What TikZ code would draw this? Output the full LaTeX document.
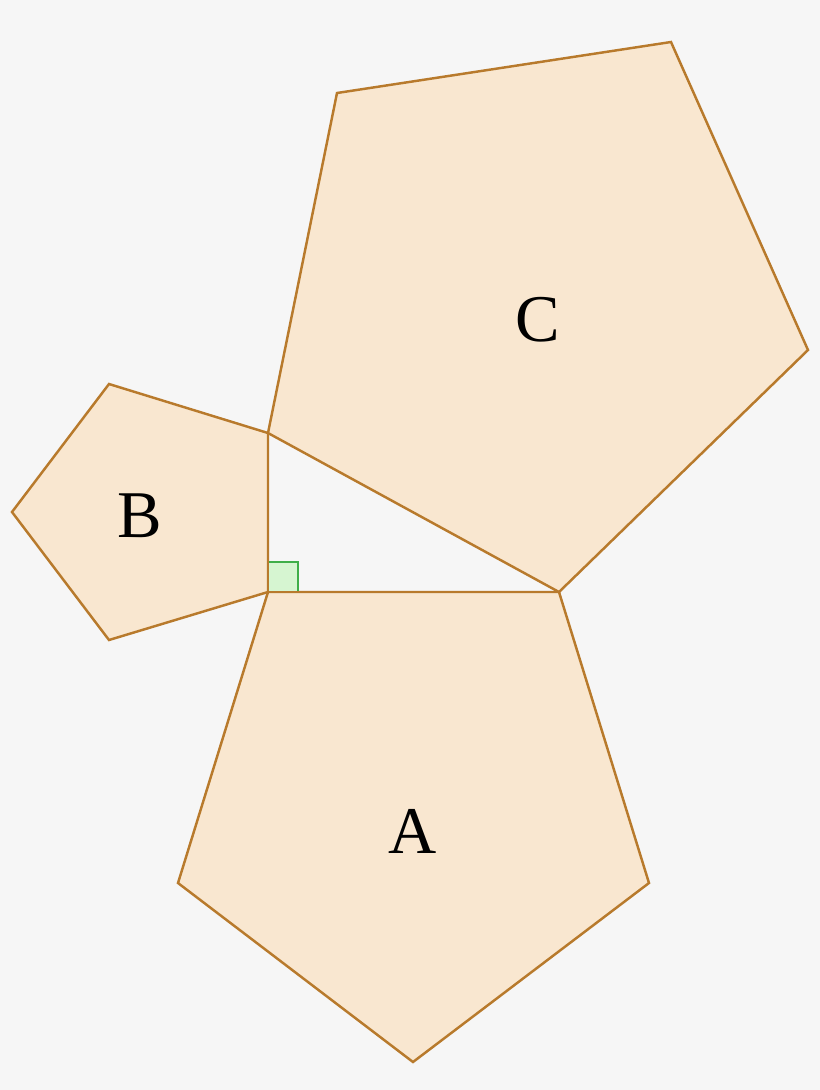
\documentclass[tikz,border=0pt]{standalone}
\usepackage{fontspec}
\setmainfont{Liberation Serif}
\usetikzlibrary{calc}
\definecolor{bgcol}{HTML}{F6F6F6}
\definecolor{pentfill}{HTML}{F9E7D0}
\definecolor{pentline}{HTML}{B87A2C}
\definecolor{rightfill}{HTML}{D6F5D1}
\definecolor{rightline}{HTML}{3FAE49}
\begin{document}
\begin{tikzpicture}[x=0.02cm, y=-0.02cm,
		pentface/.style = {fill=pentfill, draw=pentline, line width=1.4pt, line join=miter},
		letter/.style = {font=\fontsize{38}{40}\selectfont, text=black}]
		\fill[bgcol] (0,0) rectangle (820,1090);
		\useasboundingbox (0,0) rectangle (820,1090);
		
		% right triangle
		\coordinate (P) at (268, 592);
		\coordinate (Q) at (268, 433);
		\coordinate (R) at (559, 592);
		
		% pentagon on the long leg
		\draw[pentface] (P) -- (R) -- (649, 883) -- (413, 1062) -- (178, 883) -- cycle;
		% pentagon on the short leg
		\draw[pentface] (Q) -- (P) -- (109, 640) -- (12, 512) -- (109, 384) -- cycle;
		% pentagon on the hypotenuse
		\draw[pentface] (Q) -- (R) -- (808, 350) -- (671, 42) -- (337, 93) -- cycle;
		
		% right angle mark
		\draw[fill=rightfill, draw=rightline, line width=1.4pt] (P) rectangle ($(P) + (30, -30)$);
		\draw[draw=pentline, line width=1.4pt] (Q) -- (P) -- (R);
		
		\node[letter] (labA) at (413, 831) {A};
		\node[letter] (labB) at (140, 516) {B};
		\node[letter] (labC) at (538, 320) {C};
\end{tikzpicture}
\end{document}
